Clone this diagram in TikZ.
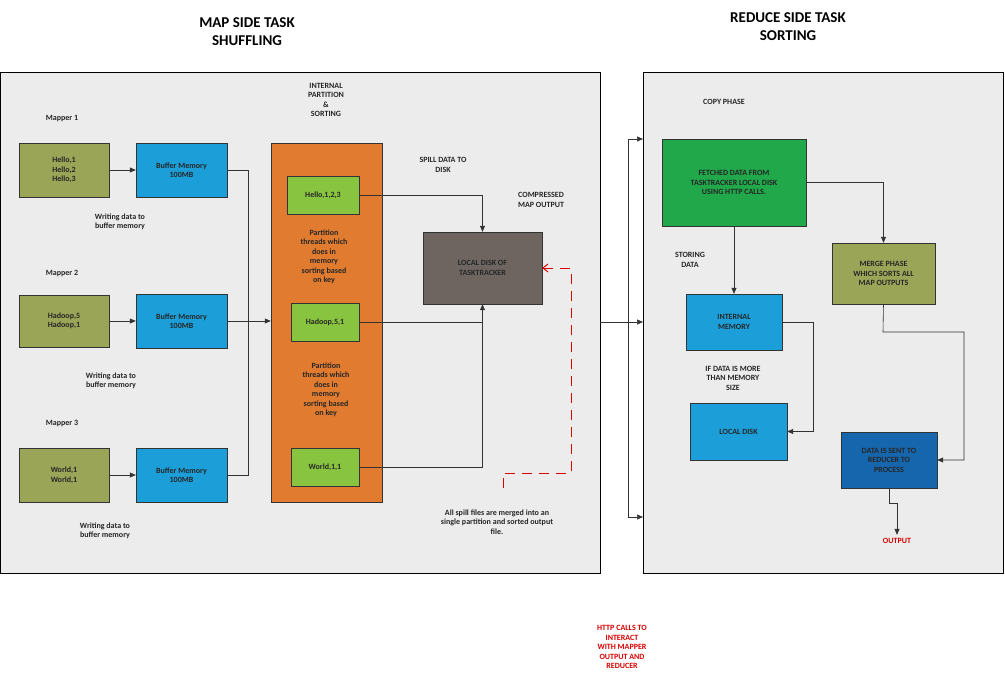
\documentclass[tikz,border=0pt]{standalone}
\usepackage{fontspec}
\setmainfont{Carlito}
\usetikzlibrary{arrows.meta}
\definecolor{olive}{HTML}{9AA557}
\definecolor{bufblue}{HTML}{1C9FD9}
\definecolor{orng}{HTML}{E07B30}
\definecolor{lgreen}{HTML}{88C440}
\definecolor{diskgrey}{HTML}{6E6560}
\definecolor{fgreen}{HTML}{20A84A}
\definecolor{dblue}{HTML}{1666AE}
\definecolor{panel}{HTML}{ECECEC}
\definecolor{ln}{HTML}{333333}
\begin{document}
\begin{tikzpicture}[x=1pt,y=-1pt,
  box/.style={draw=ln,line width=0.6pt,minimum width=#1},
  txt/.style={font=\bfseries\fontsize{8}{9.5}\selectfont,align=center,text=black!85},
  ttl/.style={font=\bfseries\fontsize{15}{18}\selectfont,align=center},
  ar/.style={-{Triangle[length=6pt,width=5pt]},line width=0.6pt,draw=ln},
  pl/.style={line width=0.6pt,draw=ln}]
\useasboundingbox (0,0) rectangle (1005,680);
\fill[white] (0,0) rectangle (1005,680);
\draw[fill=panel,line width=0.7pt] (0,72) rectangle (600,573);
\draw[fill=panel,line width=0.7pt] (643,72) rectangle (1003,573);
\node[ttl] at (247,32) {MAP SIDE TASK\\SHUFFLING};
\node[ttl] at (788,27) {REDUCE SIDE TASK\\SORTING};
% mappers
\foreach \i/\y in {1/119,2/274,3/424} \node[txt] (ml\i) at (62,\y) {Mapper \i};
\node[txt,draw=ln,fill=olive,minimum width=90pt,minimum height=54pt] (m1) at (64,170) {Hello,1\\Hello,2\\Hello,3};
\node[txt,draw=ln,fill=olive,minimum width=90pt,minimum height=52pt] (m2) at (64,321) {Hadoop,5\\Hadoop,1};
\node[txt,draw=ln,fill=olive,minimum width=90pt,minimum height=54pt] (m3) at (64,475) {World,1\\World,1};
\foreach \i/\y in {1/170,2/321,3/475}
  \node[txt,draw=ln,fill=bufblue,minimum width=91pt,minimum height=54pt] (b\i) at (181.5,\y) {Buffer Memory\\100MB};
\foreach \i in {1,2,3} \draw[ar] (m\i) -- (b\i);
\node[txt] (w1) at (120,222) {Writing data to\\buffer memory};
\node[txt] (w2) at (111,381) {Writing data to\\buffer memory};
\node[txt] (w3) at (105,531) {Writing data to\\buffer memory};
% orange
\node[draw=ln,fill=orng,minimum width=111pt,minimum height=359pt,inner sep=0] (or) at (326.5,322.5) {};
\node[txt] (ip) at (326,100) {INTERNAL\\PARTITION\\\&\\SORTING};
\node[txt,draw=ln,fill=lgreen,minimum width=72pt,minimum height=38pt] (h) at (323,195) {Hello,1,2,3};
\node[txt,draw=ln,fill=lgreen,minimum width=68pt,minimum height=38pt] (hd) at (325,322) {Hadoop,5,1};
\node[txt,draw=ln,fill=lgreen,minimum width=68pt,minimum height=38pt] (wd) at (325,467) {World,1,1};
\node[txt] (p1) at (324,257) {Partition\\threads which\\does in\\memory\\sorting based\\on key};
\node[txt] (p2) at (326,390) {Partition\\threads which\\does in\\memory\\sorting based\\on key};
\coordinate (j) at (248,322);
\draw[pl] (b1.east) -| (j); \draw[pl] (b3.east) -| (j);
\draw[ar] (b2.east) -- (or.west |- b2);
% disk
\node[txt,draw=ln,fill=diskgrey,minimum width=119pt,minimum height=72pt] (ld) at (482.5,268) {LOCAL DISK OF\\TASKTRACKER};
\node[txt] (sp) at (443,165) {SPILL DATA TO\\DISK};
\node[txt] (cm) at (541,200) {COMPRESSED\\MAP OUTPUT};
\draw[ar] (h.east) -| (ld.north);
\draw[ar] (wd.east) -| (ld.south);
\draw[pl] (hd.east) -- (ld.south |- hd.east);
\node[txt] (all) at (497,522) {All spill files are merged into an\\single partition and sorted output\\file.};
\coordinate (r1) at (503,488); \coordinate (r2) at (571,473);
\draw[red!85!black,dashed,dash pattern=on 10pt off 7pt,line width=1pt,-{Straight Barb[length=5pt,width=8pt]}] (r1) -- (503,473) -- (r2) -- (571,268) -- (ld.east);
% right
\coordinate (o) at (600,322);
\coordinate (v) at (628,322);
\draw[pl] (o) -- (v);
\coordinate (t1) at (643,139); \coordinate (t2) at (643,322); \coordinate (t3) at (643,517);
\draw[ar] (628,139) -- (t1); \draw[ar] (628,517) -- (t3); \draw[ar] (v) -- (t2);
\draw[pl] (628,139) -- (628,517);
\node[txt] (cp) at (724,102) {COPY PHASE};
\node[txt,draw=ln,fill=fgreen,minimum width=144pt,minimum height=87pt] (f) at (734,182.5) {FETCHED DATA FROM\\TASKTRACKER LOCAL DISK\\USING HTTP CALLS.};
\node[txt] (sd) at (690,260) {STORING\\DATA};
\node[txt,draw=ln,fill=bufblue,minimum width=96pt,minimum height=56pt] (im) at (734,322) {INTERNAL\\MEMORY};
\node[txt] (if) at (733,378) {IF DATA IS MORE\\THAN MEMORY\\SIZE};
\node[txt,draw=ln,fill=bufblue,minimum width=97pt,minimum height=57pt] (lk) at (738.5,431.5) {LOCAL DISK};
\node[txt,draw=ln,fill=olive,minimum width=103pt,minimum height=61pt] (mg) at (883.5,273.5) {MERGE PHASE\\WHICH SORTS ALL\\MAP OUTPUTS};
\node[txt,draw=ln,fill=dblue,minimum width=96pt,minimum height=56pt] (ds) at (889,460) {DATA IS SENT TO\\REDUCER TO\\PROCESS};
\draw[ar] (f.south -| im.north) -- (im.north);
\draw[ar] (im.east) -- (813,322) |- (lk.east);
\draw[ar] (f.east |- 0,182) -| (mg.north);
\draw[ar] (mg.south) -- (883,332) -- (964,332) |- (ds.east);
\node[txt,text=red!85!black] (out) at (897,541) {OUTPUT};
\draw[ar] (ds.south) -- (889,503) -- (897,503) -- (out.north);
\node[txt,text=red!85!black] (http) at (622,647) {HTTP CALLS TO\\INTERACT\\WITH MAPPER\\OUTPUT AND\\REDUCER};
\end{tikzpicture}
\end{document}
